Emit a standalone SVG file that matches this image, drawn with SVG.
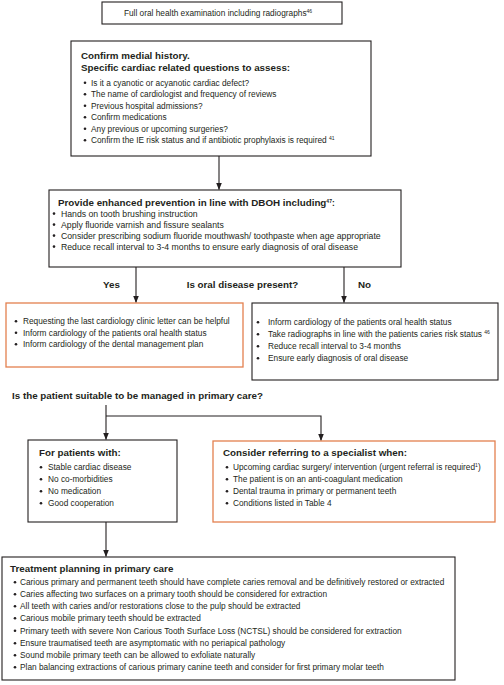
<svg xmlns="http://www.w3.org/2000/svg" width="504" height="685" viewBox="0 0 504 685">
<defs>
<marker id="ah" markerWidth="8" markerHeight="9" refX="7" refY="4" orient="auto" markerUnits="userSpaceOnUse">
<path d="M0,1 L7.5,4 L0,7 Z" fill="#231f20"/>
</marker>
</defs>
<style>
text{font-family:"Liberation Sans",Arial,sans-serif;fill:#231f20}
.t{font-size:8.3px}
.t3{font-size:8.7px}
.b{font-size:9.8px;font-weight:bold}
.sup{font-size:5px}
.bx{fill:#fff;stroke:#231f20;stroke-width:1.1}
.ob{fill:#fff;stroke:#e3804f;stroke-width:1.3}
.c{fill:none;stroke:#231f20;stroke-width:1.1}
.d{fill:#231f20}
</style>
<rect width="504" height="685" fill="#fff"/>

<g id="connectors">
<line class="c" x1="219" y1="156" x2="219" y2="189.5" marker-end="url(#ah)"/>
<line class="c" x1="136" y1="267" x2="136" y2="302.5" marker-end="url(#ah)"/>
<line class="c" x1="344" y1="267" x2="344" y2="302.5" marker-end="url(#ah)"/>
<path class="c" d="M106,405 V439.5" marker-end="url(#ah)"/>
<path class="c" d="M106,416 H321 V440.5" marker-end="url(#ah)"/>
<line class="c" x1="106" y1="522" x2="106" y2="556.5" marker-end="url(#ah)"/>
<text class="b" x="103" y="288">Yes</text>
<text class="b" x="242.5" y="288" text-anchor="middle">Is oral disease present?</text>
<text class="b" x="358" y="288">No</text>
<text class="b" x="12" y="399">Is the patient suitable to be managed in primary care?</text>
</g>

<g id="exam">
<rect class="bx" x="102" y="2" width="240" height="22"/>
<text class="t" x="218" y="16" text-anchor="middle">Full oral health examination including radiographs<tspan class="sup" dy="-3">46</tspan></text>
</g>

<g id="history">
<rect class="bx" x="71" y="41" width="300" height="115"/>
<text class="b" x="81" y="59">Confirm medial history.</text>
<text class="b" x="81" y="71">Specific cardiac related questions to assess:</text>
<circle class="d" cx="85" cy="82.7" r="1.3"/><text class="t" x="91" y="85.5">Is it a cyanotic or acyanotic cardiac defect?</text>
<circle class="d" cx="85" cy="94.2" r="1.3"/><text class="t" x="91" y="97">The name of cardiologist and frequency of reviews</text>
<circle class="d" cx="85" cy="105.7" r="1.3"/><text class="t" x="91" y="108.5">Previous hospital admissions?</text>
<circle class="d" cx="85" cy="117.2" r="1.3"/><text class="t" x="91" y="120">Confirm medications</text>
<circle class="d" cx="85" cy="128.7" r="1.3"/><text class="t" x="91" y="131.5">Any previous or upcoming surgeries?</text>
<circle class="d" cx="85" cy="140.2" r="1.3"/><text class="t" x="91" y="143">Confirm the IE risk status and if antibiotic prophylaxis is required <tspan class="sup" dy="-3">41</tspan></text>
</g>

<g id="prevention">
<rect class="bx" x="49" y="190" width="352" height="77"/>
<text class="b" x="58" y="206">Provide enhanced prevention in line with DBOH including<tspan class="sup" dy="-3.5">47</tspan><tspan class="t" dy="3.5">:</tspan></text>
<circle class="d" cx="54" cy="213.6" r="1.3"/><text class="t3" x="61" y="216.5">Hands on tooth brushing instruction</text>
<circle class="d" cx="54" cy="224.6" r="1.3"/><text class="t3" x="61" y="227.5">Apply fluoride varnish and fissure sealants</text>
<circle class="d" cx="54" cy="235.6" r="1.3"/><text class="t3" x="61" y="238.5">Consider prescribing sodium fluoride mouthwash/ toothpaste when age appropriate</text>
<circle class="d" cx="54" cy="246.6" r="1.3"/><text class="t3" x="61" y="249.5">Reduce recall interval to 3-4 months to ensure early diagnosis of oral disease</text>
</g>

<g id="yes-box">
<rect class="ob" x="6" y="303" width="237" height="64"/>
<circle class="d" cx="16" cy="321.2" r="1.3"/><text class="t" x="23" y="324">Requesting the last cardiology clinic letter can be helpful</text>
<circle class="d" cx="16" cy="332.7" r="1.3"/><text class="t" x="23" y="335.5">Inform cardiology of the patients oral health status</text>
<circle class="d" cx="16" cy="344.2" r="1.3"/><text class="t" x="23" y="347">Inform cardiology of the dental management plan</text>
</g>

<g id="no-box">
<rect class="bx" x="252" y="303" width="246" height="77"/>
<circle class="d" cx="258" cy="322.2" r="1.3"/><text class="t" x="268" y="325">Inform cardiology of the patients oral health status</text>
<circle class="d" cx="258" cy="334.2" r="1.3"/><text class="t" x="268" y="337">Take radiographs in line with the patients caries risk status <tspan class="sup" dy="-3">46</tspan></text>
<circle class="d" cx="258" cy="346.2" r="1.3"/><text class="t" x="268" y="349">Reduce recall interval to 3-4 months</text>
<circle class="d" cx="258" cy="358.2" r="1.3"/><text class="t" x="268" y="361">Ensure early diagnosis of oral disease</text>
</g>

<g id="patients-with">
<rect class="bx" x="28" y="440" width="149" height="82"/>
<text class="b" x="39" y="456">For patients with:</text>
<circle class="d" cx="41" cy="467.2" r="1.3"/><text class="t" x="48" y="470">Stable cardiac disease</text>
<circle class="d" cx="41" cy="479.2" r="1.3"/><text class="t" x="48" y="482">No co-morbidities</text>
<circle class="d" cx="41" cy="491.2" r="1.3"/><text class="t" x="48" y="494">No medication</text>
<circle class="d" cx="41" cy="503.2" r="1.3"/><text class="t" x="48" y="506">Good cooperation</text>
</g>

<g id="specialist">
<rect class="ob" x="213" y="441" width="282" height="81"/>
<text class="b" x="223" y="456">Consider referring to a specialist when:</text>
<circle class="d" cx="227" cy="467.2" r="1.3"/><text class="t" x="233" y="470">Upcoming cardiac surgery/ intervention (urgent referral is required<tspan class="sup" dy="-3">1</tspan><tspan dy="3">)</tspan></text>
<circle class="d" cx="227" cy="479.2" r="1.3"/><text class="t" x="233" y="482">The patient is on an anti-coagulant medication</text>
<circle class="d" cx="227" cy="491.2" r="1.3"/><text class="t" x="233" y="494">Dental trauma in primary or permanent teeth</text>
<circle class="d" cx="227" cy="503.2" r="1.3"/><text class="t" x="233" y="506">Conditions listed in Table 4</text>
</g>

<g id="treatment">
<rect class="bx" x="2" y="557" width="453" height="123"/>
<text class="b" x="10" y="572">Treatment planning in primary care</text>
<circle class="d" cx="15" cy="582.2" r="1.3"/><text class="t" x="20" y="585">Carious primary and permanent teeth should have complete caries removal and be definitively restored or extracted</text>
<circle class="d" cx="15" cy="594.2" r="1.3"/><text class="t" x="20" y="597">Caries affecting two surfaces on a primary tooth should be considered for extraction</text>
<circle class="d" cx="15" cy="606.2" r="1.3"/><text class="t" x="20" y="609">All teeth with caries and/or restorations close to the pulp should be extracted</text>
<circle class="d" cx="15" cy="618.2" r="1.3"/><text class="t" x="20" y="621">Carious mobile primary teeth should be extracted</text>
<circle class="d" cx="15" cy="630.7" r="1.3"/><text class="t" x="20" y="633.5">Primary teeth with severe Non Carious Tooth Surface Loss (NCTSL) should be considered for extraction</text>
<circle class="d" cx="15" cy="643.2" r="1.3"/><text class="t" x="20" y="646">Ensure traumatised teeth are asymptomatic with no periapical pathology</text>
<circle class="d" cx="15" cy="655.2" r="1.3"/><text class="t" x="20" y="658">Sound mobile primary teeth can be allowed to exfoliate naturally</text>
<circle class="d" cx="15" cy="667.2" r="1.3"/><text class="t" x="20" y="670">Plan balancing extractions of carious primary canine teeth and consider for first primary molar teeth</text>
</g>
</svg>
